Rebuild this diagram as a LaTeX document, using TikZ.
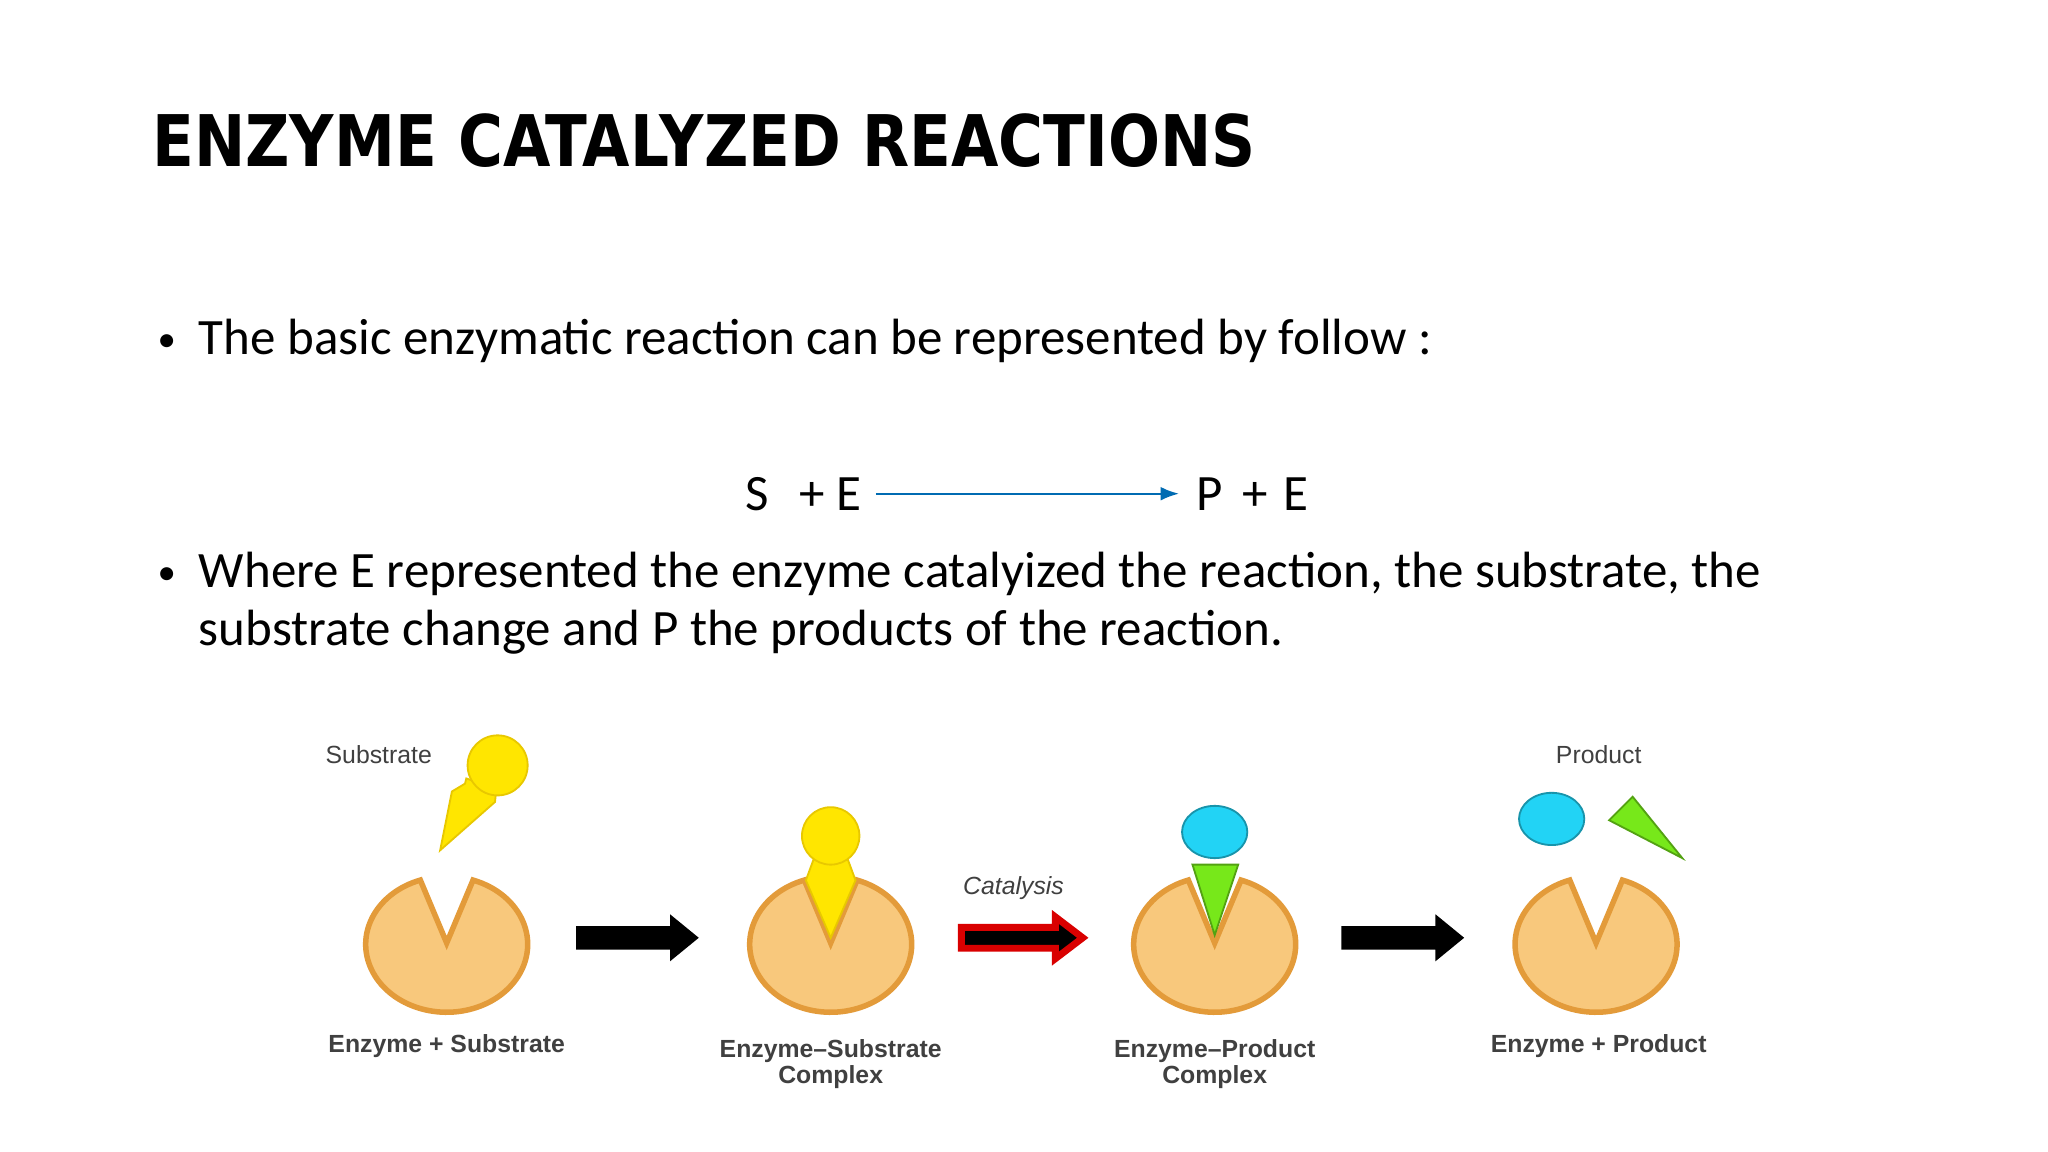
\documentclass[tikz,border=0pt]{standalone}
\usepackage{fontspec}
\setmainfont{Carlito}
\newfontfamily\arialf{Liberation Sans}
\newfontfamily\blackf{DejaVu Sans}
\usetikzlibrary{arrows.meta,calc}
\definecolor{enzfill}{HTML}{F8C87C}
\definecolor{enzdraw}{HTML}{E39B3A}
\definecolor{yel}{HTML}{FFE600}
\definecolor{yeld}{HTML}{E8C800}
\definecolor{cyanb}{HTML}{22D3F5}
\definecolor{grn}{HTML}{77E81A}
\tikzset{
 enz/.style={fill=enzfill,draw=enzdraw,line width=1.2pt},
 lab/.style={font=\arialf\bfseries\fontsize{5.4}{5.7}\selectfont,text=black!75,align=center},
 blk/.style={fill=black},
 body/.style={font=\fontsize{11.1}{13.2}\selectfont,anchor=west,inner sep=0},
}
\newcommand\bul{{\fontsize{8}{8}\selectfont\raisebox{0.15ex}{\textbullet}}\hspace{0.45em}}
\newcommand\enzymeat[1]{%
 \path[enz] ($(#1,723)+(-71:62 and 52)$) -- (#1,722) -- ($(#1,723)+(-109:62 and 52)$) arc[start angle=251,end angle=-71,x radius=62,y radius=52] -- cycle;}
\begin{document}
\begin{tikzpicture}[x=0.01cm,y=-0.01cm]
\useasboundingbox (0,0) rectangle (1568,882);
\fill[white] (0,0) rectangle (1568,882);
\node[anchor=west,inner sep=0,font=\blackf\bfseries\fontsize{15.5}{18}\selectfont] (title) at (116,108) {\scalebox{0.86}[1]{ENZYME CATALYZED REACTIONS}};
\node[body] (b1) at (120,261) {\bul The basic enzymatic reaction can be represented by follow :};
\node[body,anchor=east] (se) at (660,378) {S\hspace{0.6em}+ E};
\node[body] (pe) at (915,378) {P\hspace{0.4em}+\hspace{0.3em}E};
\draw[draw=blue!40!cyan!70!black,line width=0.5pt,-{Latex[length=4pt,width=3pt]}] ([xshift=3pt]se.east) -- ([xshift=-3.5pt]pe.west);
\node[body,align=left,anchor=north west] (b2) at (120,422) {\bul Where E represented the enzyme catalyized the reaction, the substrate, the\\[-0.5pt]\hphantom{\bul}substrate change and P the products of the reaction.};
% enzymes
\enzymeat{342}
\enzymeat{636}
\enzymeat{930}
\enzymeat{1222}
% substrate free
\path[fill=yel,draw=yeld] (357,596) -- (356,600) -- (346,606) -- (337,651) -- (379,614) -- (380,604) -- cycle;
\path[fill=yel,draw=yeld] (381,586) circle[radius=23];
% complex 1
\path[fill=yel,draw=yeld] (617,674) -- (636,718) -- (655,674) -- (648,655) -- (624,655) -- cycle;
\path[fill=yel,draw=yeld] (636,640) circle[radius=22];
% complex 2
\path[fill=grn,draw=grn!70!black] (913,662) -- (930,716) -- (948,662) -- cycle;
\path[fill=cyanb,draw=cyanb!70!black] (930,637) ellipse[x radius=25,y radius=20];
% products
\path[fill=cyanb,draw=cyanb!70!black] (1188,627) ellipse[x radius=25,y radius=20];
\path[fill=grn,draw=grn!70!black] (1232,628) -- (1250,610) -- (1288,657) -- cycle;
% arrows
\path[blk] (441,709) -- (513,709) -- (513,700) -- (535,718) -- (513,736) -- (513,727) -- (441,727) -- cycle;
\path[blk] (1027,709) -- (1099,709) -- (1099,700) -- (1121,718) -- (1099,736) -- (1099,727) -- (1027,727) -- cycle;
\path[fill=black,draw=red!85!black,line width=1.5pt] (736,710) -- (808,710) -- (808,702) -- (829,718) -- (808,734) -- (808,726) -- (736,726) -- cycle;
% labels
\node[lab,font=\arialf\fontsize{5.4}{6}\selectfont] (ls) at (290,578) {Substrate};
\node[lab,font=\arialf\fontsize{5.4}{6}\selectfont] (lp) at (1224,578) {Product};
\node[lab,font=\arialf\itshape\fontsize{5.4}{6}\selectfont] (lc) at (776,680) {Catalysis};
\node[lab] (l1) at (342,801) {Enzyme + Substrate};
\node[lab,anchor=north,inner sep=0] (l2) at (636,795) {Enzyme–Substrate\\Complex};
\node[lab,anchor=north,inner sep=0] (l3) at (930,795) {Enzyme–Product\\Complex};
\node[lab] (l4) at (1224,801) {Enzyme + Product};
\end{tikzpicture}
\end{document}
